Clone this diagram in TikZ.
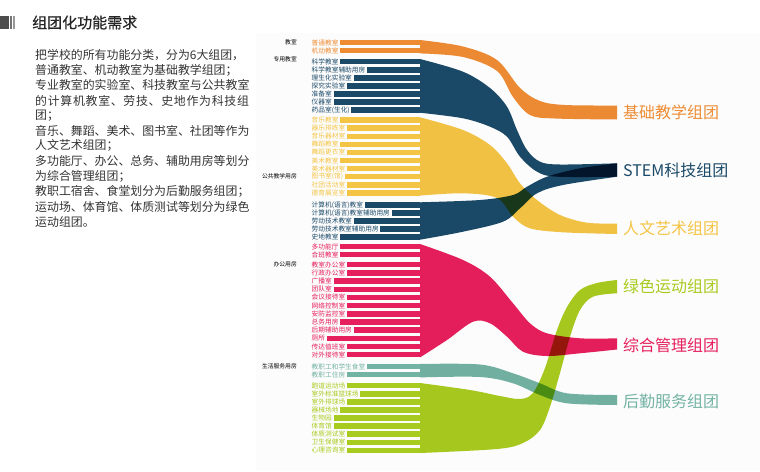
\documentclass[tikz,border=0pt]{standalone}
\usepackage{fontspec}
\setmainfont{Noto Sans CJK SC}
\usepackage{xcolor}
\usepackage{tikz}
\usetikzlibrary{calc}

\definecolor{jichu}{HTML}{EE8C34}
\definecolor{stem}{HTML}{1B4A69}
\definecolor{renwen}{HTML}{F4C444}
\definecolor{zonghe}{HTML}{E61F5D}
\definecolor{houqin}{HTML}{73B3A3}
\definecolor{lvse}{HTML}{A8CB1F}
\definecolor{word}{HTML}{333333}

\begin{document}
\begin{tikzpicture}[x=1pt, y=-1pt,
    para/.style={anchor=west, inner sep=0pt, text=word, font=\fontsize{11.9}{14}\selectfont},
    kind/.style={anchor=east, inner sep=0pt, font=\fontsize{5.8}{6}\selectfont},
    room/.style={anchor=west, inner sep=0pt, font=\fontsize{6.7}{7}\selectfont},
    bar/.style={line width=5.4pt},
    team/.style={anchor=west, inner sep=0pt, font=\fontsize{16}{18}\selectfont},
    flow/.style={smooth, tension=0.55}]

    \useasboundingbox (0,0) rectangle (760,471);
    \fill[black!1] (256,33) rectangle (760,471);

    % heading
    \fill[black!70] (0,16) rectangle (9,29);
    \fill[black!55] (10.3,16) rectangle (12.2,29);
    \fill[black!40] (13.3,16) rectangle (15,29);
    \node[anchor=west, inner sep=0pt, text=black!85, font=\fontsize{15}{16}\selectfont\addfontfeature{FakeBold=0.6}] (title) at (32,22.5) {组团化功能需求};

    \foreach \t [count=\i] in {{把学校的所有功能分类，分为6大组团，}, {普通教室、机动教室为基础教学组团；},
        {专业教室的实验室、科技教室与公共教室}, {\addfontfeature{LetterSpace=6}的计算机教室、劳技、史地作为科技组}, {团；},
        {音乐、舞蹈、美术、图书室、社团等作为}, {人文艺术组团；}, {多功能厅、办公、总务、辅助用房等划分},
        {为综合管理组团；}, {教职工宿舍、食堂划分为后勤服务组团；}, {运动场、体育馆、体质测试等划分为绿色}, {运动组团。}}
        \node[para] (line\i) at (35,39.85+15.15*\i) {\t};

    % room kinds
    \node[kind] (k1) at (297,42.7) {教室};
    \node[kind] (k2) at (297,59.3) {专用教室};
    \node[kind] (k3) at (297,176.7) {公共教学用房};
    \node[kind] (k4) at (297,264.7) {办公用房};
    \node[kind] (k5) at (297,366.7) {生活服务用房};

    \coordinate (barend) at (420,0);

    % rooms and bars
    \foreach \y/\t [count=\i] in {42.7/普通教室, 50.7/机动教室} {
        \node[room, text=jichu] (jc\i) at (311.5,\y) {\t};
        \draw[bar, jichu] ([xshift=1.5pt]jc\i.east) -- (jc\i.east -| barend);
    }
    \foreach \y/\t [count=\i] in {61.7/科学教室, 69.8/科学教室辅助用房, 77.8/理生化实验室, 85.9/探究实验室,
        93.9/准备室, 102/仪器室, 110/药品室(生化)} {
        \node[room, text=stem] (kj\i) at (311.5,\y) {\t};
        \draw[bar, stem] ([xshift=1.5pt]kj\i.east) -- (kj\i.east -| barend);
    }
    \foreach \y/\t [count=\i] in {120/音乐教室, 128.1/器乐排练室, 136.2/音乐器材室, 144.3/舞蹈教室, 152.4/舞蹈更衣室,
        160.5/美术教室, 168.6/美术器材室, 176.7/图书室(馆), 184.8/社团活动室, 192.9/德育展览室} {
        \node[room, text=renwen] (yw\i) at (311.5,\y) {\t};
        \draw[bar, renwen] ([xshift=1.5pt]yw\i.east) -- (yw\i.east -| barend);
    }
    \foreach \y/\t [count=\i] in {205/计算机(语言)教室, 213/计算机(语言)教室辅助用房, 221/劳动技术教室,
        229/劳动技术教室辅助用房, 237/史地教室} {
        \node[room, text=stem] (js\i) at (311.5,\y) {\t};
        \draw[bar, stem] ([xshift=1.5pt]js\i.east) -- (js\i.east -| barend);
    }
    \foreach \y/\t [count=\i] in {246.7/多功能厅, 254.7/合班教室, 264.7/教室办公室, 272.9/行政办公室, 281.1/广播室,
        289.2/团队室, 297.4/会议接待室, 305.6/网络控制室, 313.8/安防监控室, 322/总务用房, 330.1/后期辅助用房,
        338.3/厕所, 346.5/传达值班室, 354.7/对外接待室} {
        \node[room, text=zonghe] (zh\i) at (311.5,\y) {\t};
        \draw[bar, zonghe] ([xshift=1.5pt]zh\i.east) -- (zh\i.east -| barend);
    }
    \foreach \y/\t [count=\i] in {366.7/教职工和学生食堂, 374.7/教职工住房} {
        \node[room, text=houqin] (hq\i) at (311.5,\y) {\t};
        \draw[bar, houqin] ([xshift=1.5pt]hq\i.east) -- (hq\i.east -| barend);
    }
    \foreach \y/\t [count=\i] in {385.7/跑道运动场, 393.8/室外标准篮球场, 401.8/室外排球场, 409.9/器械场地, 418/生物园,
        426/体育馆, 434.1/体质测试室, 442.2/卫生保健室, 450.3/心理咨询室} {
        \node[room, text=lvse] (yd\i) at (311.5,\y) {\t};
        \draw[bar, lvse] ([xshift=1.5pt]yd\i.east) -- (yd\i.east -| barend);
    }

    % flows
    \begin{scope}[blend mode=multiply]
    \fill[jichu] plot[flow] coordinates {(420,40) (463,46.5) (497,60) (520,88) (540,101) (565,105) (617,105.5)}
        -- plot[flow] coordinates {(617,119.5) (555,118.5) (530,115) (513,97) (497,71) (463,57) (420,53.4)} -- cycle;
    \fill[stem] plot[flow] coordinates {(420,59) (463,71.7) (490,88) (507,106.7) (517,130) (527,150) (540,161.7) (560,164.5) (617,163.3)}
        -- plot[flow] coordinates {(617,176.7) (557,176.7) (537,171.7) (520,156.7) (507,136.7) (490,126.7) (463,118.3) (420,112.7)} -- cycle;
    \fill[renwen] plot[flow] coordinates {(420,117.3) (463,130) (490,145) (507,163.3) (520,183.3) (537,200) (560,215) (587,222.7) (617,223.5)}
        -- plot[flow] coordinates {(617,234) (563,232.3) (530,228.3) (513,216.7) (497,198) (463,193.3) (420,195.6)} -- cycle;
    \fill[stem] plot[flow] coordinates {(420,202.3) (480,200) (513,195) (527,186.7) (547,176.7) (580,168.3) (617,163.3)}
        -- plot[flow] coordinates {(617,176.7) (563,185) (537,193.3) (520,208.3) (503,221.7) (463,231.7) (420,239.7)} -- cycle;
    \fill[zonghe] plot[flow] coordinates {(420,244) (463,260) (490,276.7) (513,303.3) (530,323.3) (547,333.3) (580,338.3) (617,338.3)}
        -- plot[flow] coordinates {(617,349.5) (580,353.3) (547,356) (523,351.7) (507,336.7) (490,323.3) (473,321.7) (447,340) (420,357.4)} -- cycle;
    \fill[houqin] plot[flow] coordinates {(420,364) (480,364.5) (513,373.3) (540,383.3) (567,393.3) (617,395)}
        -- plot[flow] coordinates {(617,405) (567,403.3) (540,395) (513,383.3) (480,377) (420,377.4)} -- cycle;
    \fill[lvse] plot[flow] coordinates {(420,383) (470,390) (500,396) (520,399) (533,393) (545,368) (557,330) (567,307) (580,290) (597,283) (617,280)}
        -- plot[flow] coordinates {(617,293.3) (593,296.7) (580,310) (570,336.7) (560,373) (550,406.7) (540,430) (523,443) (497,449) (420,453)} -- cycle;
    \end{scope}

    % groups
    \node[team, text=jichu] (g1) at (623,112.7) {基础教学组团};
    \node[team, text=stem] (g2) at (623,170) {STEM科技组团};
    \node[team, text=renwen] (g3) at (623,228.3) {人文艺术组团};
    \node[team, text=lvse] (g4) at (623,286.7) {绿色运动组团};
    \node[team, text=zonghe] (g5) at (623,345) {综合管理组团};
    \node[team, text=houqin] (g6) at (623,401.7) {后勤服务组团};
\end{tikzpicture}
\end{document}
